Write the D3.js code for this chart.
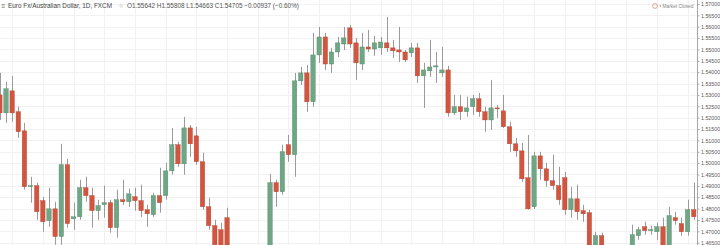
<!DOCTYPE html>
<html>
<head>
<meta charset="utf-8">
<script src="https://cdn.jsdelivr.net/npm/d3@7"></script>
<style>
  html, body { margin: 0; padding: 0; background: #fff; }
  svg { display: block; font-family: "Liberation Sans", Arial, sans-serif; }
</style>
</head>
<body>
<div id="chart-area"></div>
<script>
/*
*    EUR/AUD daily candles
*/

var opens = [
	1.5300, 1.5221, 1.5318, 1.5226, 1.5142, 1.4896, 1.4901, 1.4835, 1.4747, 1.4799,
	1.4677, 1.4993, 1.4755, 1.4764, 1.4892, 1.4857, 1.4791, 1.4817, 1.4826, 1.4716,
	1.4839, 1.4830, 1.4852, 1.4835, 1.4795, 1.4773, 1.4857, 1.4857, 1.4966, 1.5081,
	1.4997, 1.5155, 1.5120, 1.5006, 1.4808, 1.4725, 1.4707, 1.4760, 1.4610, 1.4560,
	1.4575, 1.4540, 1.4555, 1.4580, 1.4566, 1.4914, 1.4874, 1.5081, 1.5037, 1.5362,
	1.5397, 1.5270, 1.5476, 1.5555, 1.5436, 1.5489, 1.5524, 1.5595, 1.5529, 1.5436,
	1.5511, 1.5502, 1.5507, 1.5529, 1.5507, 1.5498, 1.5489, 1.5485, 1.5507, 1.5384,
	1.5406, 1.5423, 1.5397, 1.5410, 1.5221, 1.5248, 1.5226, 1.5248, 1.5283, 1.5226,
	1.5190, 1.5243, 1.5230, 1.5160, 1.5085, 1.5054, 1.4936, 1.4808, 1.5032, 1.4975,
	1.4923, 1.4901, 1.4936, 1.4795, 1.4843, 1.4791, 1.4782, 1.4619, 1.4681, 1.4619,
	1.4590, 1.4575, 1.4600, 1.4610, 1.4681, 1.4720, 1.4703, 1.4698, 1.4720, 1.4628,
	1.4760, 1.4734, 1.4698, 1.4795
];
var highs = [
	1.5397, 1.5357, 1.5384, 1.5248, 1.5177, 1.4940, 1.4914, 1.4852, 1.4892, 1.4830,
	1.5085, 1.5019, 1.4826, 1.4927, 1.4940, 1.4892, 1.4839, 1.4901, 1.4839, 1.4883,
	1.4927, 1.4888, 1.4892, 1.4905, 1.4817, 1.4870, 1.4980, 1.5001, 1.5155, 1.5094,
	1.5204, 1.5168, 1.5160, 1.5046, 1.4848, 1.4751, 1.4738, 1.4804, 1.4625, 1.4600,
	1.4595, 1.4590, 1.4610, 1.4620, 1.4953, 1.4927, 1.5081, 1.5124, 1.5397, 1.5423,
	1.5432, 1.5573, 1.5599, 1.5573, 1.5507, 1.5555, 1.5599, 1.5608, 1.5551, 1.5573,
	1.5586, 1.5560, 1.5555, 1.5643, 1.5542, 1.5599, 1.5498, 1.5529, 1.5529, 1.5441,
	1.5542, 1.5489, 1.5511, 1.5428, 1.5300, 1.5300, 1.5292, 1.5300, 1.5309, 1.5248,
	1.5366, 1.5256, 1.5300, 1.5182, 1.5111, 1.5089, 1.5124, 1.5050, 1.5050, 1.5001,
	1.5037, 1.4984, 1.4962, 1.4896, 1.4905, 1.4817, 1.4795, 1.4698, 1.4694, 1.4630,
	1.4625, 1.4630, 1.4635, 1.4729, 1.4720, 1.4742, 1.4725, 1.4738, 1.4760, 1.4808,
	1.4786, 1.4760, 1.4839, 1.4914
];
var lows = [
	1.5190, 1.5177, 1.5182, 1.5111, 1.4883, 1.4826, 1.4751, 1.4698, 1.4720, 1.4641,
	1.4641, 1.4716, 1.4707, 1.4751, 1.4830, 1.4716, 1.4751, 1.4760, 1.4694, 1.4672,
	1.4817, 1.4808, 1.4791, 1.4764, 1.4720, 1.4764, 1.4782, 1.4839, 1.4949, 1.4984,
	1.4949, 1.5028, 1.4993, 1.4795, 1.4707, 1.4619, 1.4597, 1.4575, 1.4540, 1.4530,
	1.4520, 1.4510, 1.4535, 1.4540, 1.4540, 1.4808, 1.4861, 1.5006, 1.4940, 1.5344,
	1.5226, 1.5248, 1.5441, 1.5410, 1.5397, 1.5467, 1.5498, 1.5507, 1.5366, 1.5410,
	1.5489, 1.5472, 1.5476, 1.5489, 1.5463, 1.5445, 1.5445, 1.5467, 1.5353, 1.5243,
	1.5380, 1.5353, 1.5380, 1.5204, 1.5212, 1.5190, 1.5204, 1.5212, 1.5204, 1.5138,
	1.5146, 1.5199, 1.5155, 1.5050, 1.5028, 1.4918, 1.4795, 1.4799, 1.4927, 1.4896,
	1.4883, 1.4817, 1.4773, 1.4760, 1.4751, 1.4742, 1.4584, 1.4597, 1.4593, 1.4570,
	1.4555, 1.4560, 1.4580, 1.4593, 1.4663, 1.4685, 1.4685, 1.4663, 1.4597, 1.4610,
	1.4729, 1.4681, 1.4681, 1.4751
];
var closes = [
	1.5221, 1.5327, 1.5221, 1.5138, 1.4896, 1.4901, 1.4786, 1.4742, 1.4799, 1.4677,
	1.4993, 1.4734, 1.4764, 1.4892, 1.4857, 1.4791, 1.4813, 1.4826, 1.4716, 1.4839,
	1.4830, 1.4865, 1.4835, 1.4791, 1.4777, 1.4857, 1.4826, 1.4966, 1.5081, 1.4997,
	1.5155, 1.5085, 1.5006, 1.4808, 1.4725, 1.4641, 1.4628, 1.4610, 1.4560, 1.4575,
	1.4540, 1.4555, 1.4580, 1.4560, 1.4914, 1.4874, 1.5050, 1.5037, 1.5362, 1.5397,
	1.5270, 1.5476, 1.5555, 1.5436, 1.5489, 1.5529, 1.5551, 1.5524, 1.5441, 1.5511,
	1.5502, 1.5529, 1.5533, 1.5507, 1.5494, 1.5489, 1.5454, 1.5507, 1.5384, 1.5410,
	1.5423, 1.5428, 1.5410, 1.5221, 1.5248, 1.5226, 1.5243, 1.5283, 1.5226, 1.5190,
	1.5243, 1.5239, 1.5160, 1.5085, 1.5054, 1.4931, 1.4799, 1.5032, 1.4975, 1.4923,
	1.4901, 1.4839, 1.4795, 1.4843, 1.4786, 1.4777, 1.4610, 1.4681, 1.4619, 1.4590,
	1.4575, 1.4600, 1.4610, 1.4685, 1.4707, 1.4703, 1.4707, 1.4720, 1.4619, 1.4769,
	1.4747, 1.4698, 1.4795, 1.4764
];

var priceTicks = [
	1.570, 1.565, 1.560, 1.555, 1.550, 1.545, 1.540, 1.535, 1.530, 1.525, 1.520,
	1.515, 1.510, 1.505, 1.500, 1.495, 1.490, 1.485, 1.480, 1.475, 1.470, 1.465
];

var titleText = "Euro Fx/Australian Dollar, 1D, FXCM";
var ohlcText = "O1.55642 H1.55808 L1.54663 C1.54705 \u22120.00937 (\u22120.60%)";
var statusText = "Market Closed";

var W = 720, H = 245;
var plotRight = 697;

var svg = d3.select("#chart-area").append("svg").attr("width", W).attr("height", H);

var data = opens.map((o, i) => ({ i: i, o: o, h: highs[i], l: lows[i], c: closes[i] }));

var x = d3.scaleBand()
	.domain(d3.range(data.length))
	.range([-3.2, plotRight - 0.2])
	.padding(0);
var y = d3.scaleLinear().domain([1.465, 1.570]).range([242.7, 4]);

var upColor = "#6fa686", downColor = "#d05640";

svg.append("defs").append("clipPath").attr("id", "plot-clip")
	.append("rect").attr("x", 0).attr("y", 0).attr("width", plotRight).attr("height", H);

// grid
var grid = svg.append("g").attr("class", "grid");
grid.selectAll("line.h").data(priceTicks).enter().append("line")
	.attr("class", "h")
	.attr("x1", 0).attr("x2", plotRight)
	.attr("y1", d => Math.round(y(d)) + 0.5).attr("y2", d => Math.round(y(d)) + 0.5)
	.attr("stroke", "#f1f1f1");
grid.selectAll("line.v").data(data.filter(d => d.i % 5 === 2)).enter().append("line")
	.attr("class", "v")
	.attr("x1", d => Math.round(x(d.i) + x.bandwidth() / 2) + 0.5)
	.attr("x2", d => Math.round(x(d.i) + x.bandwidth() / 2) + 0.5)
	.attr("y1", 0).attr("y2", H)
	.attr("stroke", "#f1f1f1");

// candles
var g = svg.append("g").attr("clip-path", "url(#plot-clip)");
var bodyW = x.bandwidth() * 0.72;

var candles = g.selectAll("g.candle").data(data).enter().append("g").attr("class", "candle");

candles.append("line")
	.attr("x1", d => Math.round(x(d.i) + x.bandwidth() / 2) + 0.5)
	.attr("x2", d => Math.round(x(d.i) + x.bandwidth() / 2) + 0.5)
	.attr("y1", d => y(d.h))
	.attr("y2", d => y(d.l))
	.attr("stroke", "#9a9a9a")
	.attr("stroke-width", 1);

candles.append("rect")
	.attr("x", d => x(d.i) + (x.bandwidth() - bodyW) / 2)
	.attr("y", d => y(Math.max(d.o, d.c)))
	.attr("width", bodyW)
	.attr("height", d => Math.max(1, Math.abs(y(d.o) - y(d.c))))
	.attr("fill", d => d.c >= d.o ? upColor : downColor)
	.attr("stroke", d => d.c >= d.o ? "#4f8a68" : "#b8402f")
	.attr("stroke-width", 0.4);

// right price axis
var rightAxis = d3.axisRight(y)
	.tickValues(priceTicks)
	.tickFormat(d3.format(".5f"))
	.tickSize(2)
	.tickPadding(1.5);

var axisG = svg.append("g")
	.attr("transform", "translate(" + (plotRight + 0.5) + ", 0)")
	.call(rightAxis);
axisG.select(".domain").attr("stroke", "#a8a8a8").attr("d", "M0,0V" + H);
axisG.selectAll(".tick line").attr("stroke", "#a8a8a8");
axisG.selectAll(".tick text")
	.attr("font-size", "5.3px")
	.attr("fill", "#5a5a5a");

// header legend
var header = svg.append("g").attr("font-size", "6.4px");
header.append("text").attr("x", 1.5).attr("y", 8).attr("fill", "#666").text("\u2261");
header.append("text").attr("x", 8).attr("y", 8).attr("fill", "#444").text(titleText);
header.append("circle").attr("cx", 121).attr("cy", 6).attr("r", 1.3).attr("fill", "none").attr("stroke", "#bbb").attr("stroke-width", 0.5);
header.append("text").attr("x", 127).attr("y", 8).attr("fill", "#555").text(ohlcText);

// market status
svg.append("circle").attr("cx", 655).attr("cy", 6).attr("r", 2.4)
	.attr("fill", "none").attr("stroke", "#e08a7a").attr("stroke-width", 0.8);
svg.append("circle").attr("cx", 660.5).attr("cy", 6).attr("r", 0.8).attr("fill", "#888");
svg.append("text").attr("x", 662.5).attr("y", 7.8).attr("font-size", "4.8px").attr("fill", "#888").text(statusText);
</script>
</body>
</html>
